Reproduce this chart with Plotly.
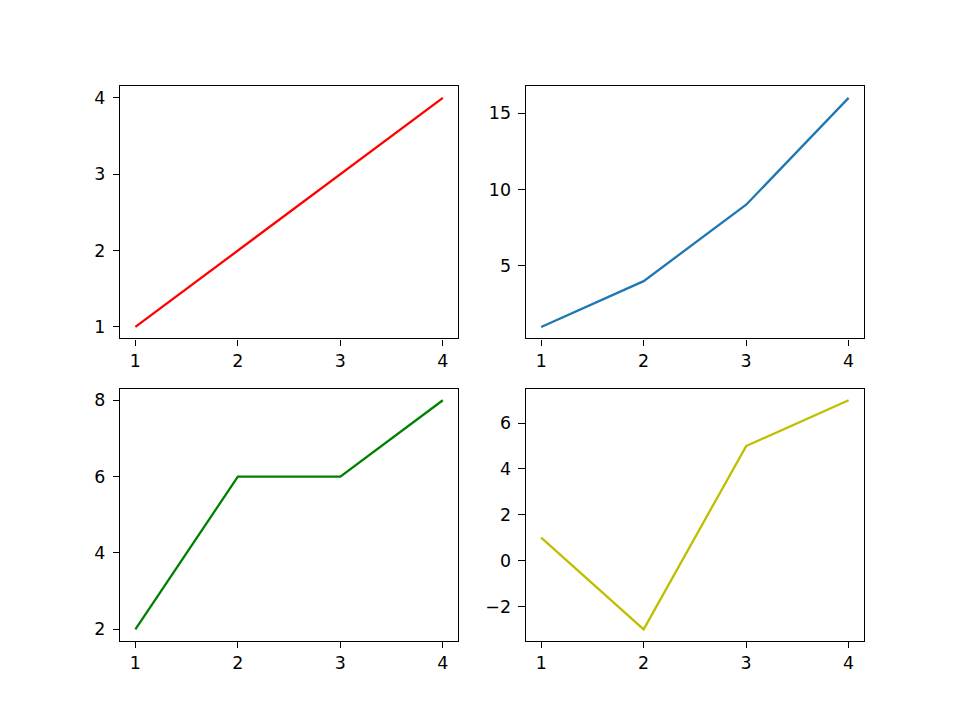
import plotly.graph_objects as go

x = [1, 2, 3, 4]
y_red = [1, 2, 3, 4]
y_blue = [1, 4, 9, 16]
y_green = [2, 6, 6, 8]
y_yellow = [1, -3, 5, 7]

x_ticks = [1, 2, 3, 4]
yt1 = [1, 2, 3, 4]
yt2 = [5, 10, 15]
yt3 = [2, 4, 6, 8]
yt4 = [-2, 0, 2, 4, 6]

series = [
    (y_red, "#ff0000", yt1),
    (y_blue, "#1f77b4", yt2),
    (y_green, "#008000", yt3),
    (y_yellow, "#bfbf00", yt4),
]

# figure is drawn at page offset 8px (body margin); domains computed for 952x712
xdoms = [[0.11765, 0.47290], [0.54390, 0.89916], [0.11765, 0.47290], [0.54390, 0.89916]]
ydoms = [[0.53596, 0.88989], [0.53596, 0.88989], [0.11124, 0.46517], [0.11124, 0.46517]]

fig = go.Figure()
font = dict(family="DejaVu Sans", size=17.4, color="black")
layout = dict(width=952, height=712, margin=dict(l=0, r=0, t=0, b=0),
              paper_bgcolor="white", plot_bgcolor="white", showlegend=False, font=font)

for i, (ys, col, yt) in enumerate(series):
    n = i + 1
    sfx = "" if n == 1 else str(n)
    fig.add_trace(go.Scatter(x=x, y=ys, mode="lines", line=dict(color=col, width=2.3),
                             xaxis="x" + sfx, yaxis="y" + sfx))
    ymin, ymax = min(ys), max(ys)
    pad = (ymax - ymin) * 0.05
    common = dict(showgrid=False, zeroline=False, showline=True, linecolor="black",
                  linewidth=1.4, mirror=True, ticks="outside", ticklen=6.1, tickwidth=1.4,
                  tickcolor="black", tickfont=font)
    layout["xaxis" + sfx] = dict(domain=xdoms[i], range=[0.85, 4.15], anchor="y" + sfx,
                                 tickvals=x_ticks, ticktext=[str(v) for v in x_ticks],
                                 ticklabelstandoff=0, **common)
    layout["yaxis" + sfx] = dict(domain=ydoms[i], range=[ymin - pad, ymax + pad], anchor="x" + sfx,
                                 tickvals=yt, ticktext=[str(v).replace("-", "\u2212") for v in yt],
                                 ticklabelstandoff=4, **common)

fig.update_layout(**layout)
fig.write_html("out.html")
